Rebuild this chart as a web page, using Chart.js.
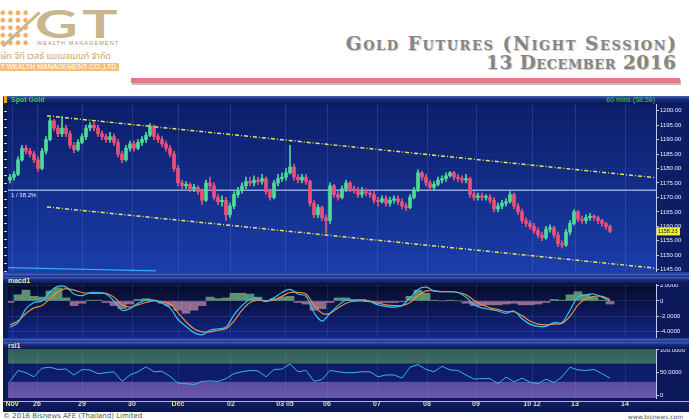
<!DOCTYPE html>
<html>
<head>
<meta charset="utf-8">
<script src="https://cdn.jsdelivr.net/npm/chart.js@4.4.0/dist/chart.umd.min.js"></script>
<style>
  body { margin: 0; width: 689px; height: 420px; background: #fff; position: relative; overflow: hidden; font-family: "Liberation Sans", Arial, sans-serif; }
  .abs { position: absolute; }
  canvas { position: absolute; left: 0; }
  #dots { left: -1px; top: 9px; width: 31px; height: 38px; background: radial-gradient(circle, #f3ab68 2.1px, transparent 2.7px) 0 0 / 7.6px 7.5px; }
  #slash { left: -4px; top: 28px; width: 50px; height: 2.5px; background: #c8b68e; transform: rotate(-43deg); transform-origin: center; }
  #gt { left: 35px; top: 3px; font: bold 38px Lato, "Liberation Sans", sans-serif; color: #c9b68d; transform: scaleX(1.55); transform-origin: left top; letter-spacing: 3px; line-height: 40px; }
  #wm { left: 37px; top: 40px; font-size: 5.5px; letter-spacing: 1.1px; color: #a2946f; }
  #thai { left: -9px; top: 49px; font-size: 9px; color: #c9a265; white-space: nowrap; font-family: "Noto Sans Thai", "DejaVu Sans", sans-serif; }
  #obar { left: 0; top: 63px; width: 119px; height: 8px; background: #f6bf7b; overflow: hidden; }
  #obar span { position: absolute; left: -5px; top: 0; font-size: 7px; line-height: 8px; color: #fff; white-space: nowrap; }
  .ttl { right: 13px; font-family: "DejaVu Serif", serif; font-variant: small-caps; font-weight: bold; color: #858585; text-shadow: 1px 1px 1px #c4c4c4; white-space: nowrap; }
  #t1 { top: 33px; font-size: 18.5px; line-height: 21px; letter-spacing: 1.6px; margin-right: -1.6px; }
  #t2 { top: 52px; font-size: 18.5px; line-height: 21px; letter-spacing: 0.5px; margin-right: -0.5px; }
  #redbar { left: 131px; top: 78px; width: 549px; height: 5px; background: #e07c82; box-shadow: 1px 2px 0 #bdbdbd; }
  #block { left: 3px; top: 96px; width: 686px; height: 316px; background: #0b1a5a; }
  .hdr { left: 3px; width: 686px; background: linear-gradient(#4864b8 0%, #1a2f82 35%, #0a1650 100%); }
  .hdr span { position: absolute; top: 0; font-size: 7px; font-weight: bold; line-height: 8px; }
  .sep { left: 3px; width: 686px; background: linear-gradient(#1c3690 0%, #3d5cc0 50%, #16297a 100%); }
  #ticksL { left: 4px; top: 104px; width: 3px; height: 168px; background: repeating-linear-gradient(#0b1a5a 0 7px, #c8d0f0 7px 8px); }
  #xstrip { left: 3px; top: 401px; width: 686px; height: 11px; background: linear-gradient(#b8b89a 0 1px, #101e5e 1px, #0a1650 100%); }
  #copy { left: 3px; top: 412px; font-size: 7px; color: #555; font-family: Verdana, "DejaVu Sans", sans-serif; }
  #www { right: 6px; top: 413px; font-size: 6px; color: #555; font-family: Verdana, "DejaVu Sans", sans-serif; }
</style>
</head>
<body>
<div id="dots" class="abs"></div>
<div id="slash" class="abs"></div>
<div id="gt" class="abs">GT</div>
<div id="wm" class="abs">WEALTH MANAGEMENT</div>
<div id="thai" class="abs">บริษัท จีที เวลธ์ แมเนจเมนท์ จำกัด</div>
<div id="obar" class="abs"><span>GT WEALTH MANAGEMENT CO.,LTD.</span></div>
<div id="t1" class="abs ttl">Gold Futures (Night Session)</div>
<div id="t2" class="abs ttl">13 December 2016</div>
<div id="redbar" class="abs"></div>

<div id="block" class="abs"></div>
<div class="abs hdr" style="top:96px;height:8px"><span style="left:1px;width:3px;height:7px;background:#e8a820;top:0"></span><span style="left:8px;color:#2fd23a">Spot Gold</span><span style="right:34px;color:#2fd23a;font-weight:normal">60 mins (58:58)</span></div>
<div id="ticksL" class="abs"></div>
<div class="abs sep" style="top:272px;height:5px"></div>
<div class="abs hdr" style="top:277px;height:7px"><span style="left:5px;color:#e6e6a6;line-height:7px">macd1</span></div>
<div class="abs sep" style="top:338px;height:4px"></div>
<div class="abs hdr" style="top:342px;height:7px"><span style="left:5px;color:#e6e6a6;line-height:7px">rsi1</span></div>
<div id="xstrip" class="abs"></div>
<div id="copy" class="abs">© 2016 Bisnews AFE (Thailand) Limited</div>
<div id="www" class="abs">www.bisnews.com</div>

<canvas id="main" width="689" height="168" style="top:104px"></canvas>
<canvas id="macd" width="689" height="54" style="top:284px"></canvas>
<canvas id="rsi" width="689" height="61" style="top:349px"></canvas>

<script>
// 60-min candles, one slot per candle on the x axis
const slotCount = 162;
const opens = [1176,1177,1178,1183,1187,1186,1185,1183,1180,1186,
  1190,1196.5,1194,1192,1194,1192,1188,1186.5,1189,1191,
  1194,1195,1194,1192,1191,1190,1191,1189,1185,1183,
  1187,1188.5,1187,1189,1190,1191.5,1194.5,1191,1190,1188.5,
  1187,1185,1180,1175,1174,1174.5,1173,1173.5,1172,1169,
  1175,1174,1170,1168.5,1169,1164,1167,1171,1172.5,1174,
  1175.5,1175,1176,1175.5,1176.5,1172,1170,1175,1176.5,1177,
  1178.5,1180.5,1177,1176,1177,1175.5,1168,1164,1166.5,1163,
  1162,1174,1171,1170,1173,1175,1173,1172.5,1171,1172,
  1171.5,1171,1169,1168.5,1169.5,1168,1169,1169.5,1168.5,1167,
  1166.5,1170,1172.5,1178.5,1177,1175,1173.5,1174.5,1176,1176.5,
  1177.5,1178.5,1177,1176.5,1176,1176.5,1171,1170,1170.5,1170,
  1170,1169,1166,1167,1168,1168.5,1171,1167,1165,1162,
  1161,1160,1158.5,1157,1156,1159,1159.5,1157,1154,1153.5,
  1158,1161,1165,1162.5,1162,1163,1163.5,1163,1162,1161,
  1160];
const highs = [1178,1179,1184,1188,1188,1187,1186,1184,1187,1191,
  1197.5,1197,1195,1198,1195,1193,1189,1190,1192,1195,
  1196,1196,1195,1193,1192,1192.5,1192,1190,1186,1188,
  1189.5,1189.5,1190,1191,1192.5,1195.5,1195,1192,1191,1189.5,
  1188,1186,1181,1176,1175.5,1175,1174.5,1174,1173,1176,
  1177,1175,1171,1170.5,1170,1168,1172,1173.5,1175,1177,
  1177,1177.5,1177,1178,1177,1173,1176,1178,1178.5,1180,
  1188,1181.5,1178,1178,1178,1176,1169,1167.5,1167,1164,
  1175,1174.5,1172,1174,1176,1175.5,1174,1173.5,1173.5,1173,
  1172.5,1172,1170,1170.5,1170.5,1170,1170.5,1170.5,1169.5,1168,
  1171,1173.5,1179.5,1179,1178,1176,1175.5,1177,1177.5,1178.5,
  1179,1179,1178,1177.5,1178,1177,1172,1171.5,1171.5,1171,
  1171,1170,1168,1169,1169.5,1172,1171.5,1168,1166,1163,
  1162,1161,1159.5,1158,1160,1160.5,1160,1158,1155,1159,
  1162,1165.8,1165.5,1163.5,1164,1164.5,1164,1163.5,1162.5,1161.5,
  1160.5];
const lows = [1175,1176,1177.5,1182.5,1185,1184,1182,1179,1179.5,1185,
  1189.5,1193,1191,1191,1191,1187,1185.5,1186,1188.5,1190,
  1193,1193,1191,1190,1189,1189,1188,1184,1182,1182.5,
  1186,1186,1186.5,1188,1189,1191,1190,1189,1187.5,1186,
  1184,1179,1174,1173,1173,1172,1172,1171,1167.5,1168.5,
  1173,1169,1167.5,1167,1162,1163,1166,1170,1171.5,1173,
  1174,1174,1174.5,1174.5,1171,1169,1169.5,1174,1175.5,1176,
  1178,1176,1175,1175,1174.5,1167,1163,1163,1162,1157.7,
  1161,1170,1169,1169.5,1172,1172,1171.5,1170,1170,1170.5,
  1170,1168,1167,1168,1167,1167,1168,1167.5,1166,1165.5,
  1166,1169.5,1172,1176,1174,1172.5,1172.5,1174,1175,1175.5,
  1177,1176,1175.5,1175,1175,1170,1169,1169,1169,1169,
  1168,1165,1165,1166,1167,1168,1166,1164,1161,1160,
  1159,1157.5,1156,1155,1155.5,1158,1156,1153,1152.5,1153,
  1157,1160.5,1161.5,1161,1161,1162,1162,1161,1160,1159,
  1157.8];
const closes = [1177,1178,1183,1187,1186,1185,1183,1180,1186,1190,
  1196.5,1194,1192,1194,1192,1188,1186.5,1189,1191,1194,
  1195,1194,1192,1191,1190,1191,1189,1185,1183,1187,
  1188.5,1187,1189,1190,1191.5,1194.5,1191,1190,1188.5,1187,
  1185,1180,1175,1174,1174.5,1173,1173.5,1172,1169,1175,
  1174,1170,1168.5,1169,1164,1167,1171,1172.5,1174,1175.5,
  1175,1176,1175.5,1176.5,1172,1170,1175,1176.5,1177,1178.5,
  1180.5,1177,1176,1177,1175.5,1168,1164,1166.5,1163,1162,
  1174,1171,1170,1173,1175,1173,1172.5,1171,1172,1171.5,
  1171,1169,1168.5,1169.5,1168,1169,1169.5,1168.5,1167,1166.5,
  1170,1172.5,1178.5,1177,1175,1173.5,1174.5,1176,1176.5,1177.5,
  1178.5,1177,1176.5,1176,1176.5,1171,1170,1170.5,1170,1170,
  1169,1166,1167,1168,1168.5,1171,1167,1165,1162,1161,
  1160,1158.5,1157,1156,1159,1159.5,1157,1154,1153.5,1158,
  1161,1165,1162.5,1162,1163,1163.5,1163,1162,1161,1160,
  1158.23];
const lastPrice = 1158.23;

// trend channel and retracement level: [slot, price]
const upperChannel = [[9.25, 1198.2], [161.5, 1176.8]];
const lowerChannel = [[9.25, 1166.7], [161.5, 1145.5]];
const fibLevel = 1172.5;
const fibLabel = '1 / 38.2%';
const lowerTrace = [[-0.5, 1145.7], [36.5, 1144.6]];
const priceTicks = [1145, 1150, 1155, 1160, 1165, 1170, 1175, 1180, 1185, 1190, 1195, 1200];

// indicators, one value every 2 slots
const macdLine = [-3.4,-2.8,-1.0,-0.2,0.0,1.2,1.9,1.8,0.9,0.7,
  1.1,1.1,0.9,0.0,-1.2,-1.0,-0.3,0.1,0.1,-0.3,
  -0.9,-2.4,-3.3,-4.1,-4.4,-3.8,-3.6,-3.4,-1.8,-0.6,
  0.2,0.3,-0.1,0.4,1.1,1.5,0.9,0.6,-1.5,-2.6,
  -1.6,-0.6,0.1,0.0,0.0,-0.1,-0.5,-0.7,-0.8,-0.6,
  0.4,1.5,1.8,1.3,1.2,1.2,1.1,0.5,-0.5,-0.9,
  -1.1,-1.3,-1.6,-1.3,-2.3,-3.0,-3.3,-3.3,-2.8,-2.8,
  -1.2,0.5,0.8,0.9,0.5,0.0];
const signalLine = [-3.1,-2.6,-1.6,-0.9,-0.6,0.3,1.2,1.6,1.4,1.1,
  1.0,1.0,1.0,0.5,-0.5,-0.8,-0.5,-0.2,0.0,-0.1,
  -0.4,-1.5,-2.7,-3.6,-4.0,-4.0,-3.8,-3.6,-2.6,-1.2,
  -0.2,0.1,0.0,0.1,0.6,1.1,1.1,0.9,-0.5,-1.6,
  -1.6,-0.9,-0.3,0.0,0.1,0.0,-0.3,-0.5,-0.6,-0.6,
  -0.2,0.7,1.3,1.3,1.2,1.2,1.1,0.8,0.1,-0.5,
  -0.9,-1.1,-1.4,-1.4,-1.9,-2.6,-3.0,-3.1,-3.0,-2.9,
  -2.0,-0.5,0.3,0.6,0.6,0.2];
const macdHist = [-0.2,0.8,1.4,0.6,0.5,1.3,1.7,0.4,-0.6,-0.3,
  0.1,0.1,-0.2,-0.6,-1.0,-0.4,0.2,0.3,0.1,-0.3,
  -0.6,-1.2,-1.6,-1.2,-0.6,0.5,0.3,0.4,1.0,1.0,
  0.9,0.5,0.1,0.3,0.5,0.6,-0.2,-0.4,-1.2,-1.0,
  -0.2,0.4,0.4,0.2,0.2,-0.1,-0.3,-0.2,-0.2,-0.1,
  0.6,1.4,1.0,0.1,0.0,0.1,0.0,-0.3,-0.6,-0.6,
  -0.5,-0.5,-0.4,-0.3,-0.5,-0.5,-0.4,-0.2,0.2,0.1,
  0.8,1.2,0.8,0.5,0.1,-0.4];
const macdTicks = [2, 0, -2, -4];
const rsiLine = [31,55,50,41,60,62,57,58,45,57,
  56,48,50,52,31,45,52,63,52,53,
  42,27,26,24,31,32,31,37,48,52,
  55,54,41,57,58,69,52,55,31,35,
  55,52,50,50,52,52,41,45,45,38,
  62,68,57,52,64,56,55,45,36,37,
  37,26,40,30,38,29,26,36,28,41,
  62,56,55,57,48,38];
const rsiTicks = [0, 50, 100];

// day labels on the time axis, in slots
const dayPos = [0.5, 6.75, 18, 30.5, 42, 55.25, 68.75, 79.25, 91.75, 104.25, 116.5, 130.5, 141.25, 153.75];
const dayNames = ['Nov', '26', '29', '30', 'Dec', '02', '03 05', '06', '07', '08', '09', '10 12', '13', '14'];

Chart.defaults.font.family = '"Liberation Sans", Arial, sans-serif';
Chart.defaults.animation = false;

const panelBg = {
  id: 'panelBg',
  beforeDraw(chart, args, opts) {
    const { ctx, chartArea: a } = chart;
    ctx.save();
    const g = ctx.createLinearGradient(0, a.top, 0, a.bottom);
    opts.stops.forEach(([p, c]) => g.addColorStop(p, c));
    ctx.fillStyle = g;
    ctx.fillRect(a.left, a.top, a.right - a.left, a.bottom - a.top);
    ctx.fillStyle = opts.axis;
    ctx.fillRect(a.right, a.top, chart.width - a.right, a.bottom - a.top);
    if (opts.bands) {
      const y = chart.scales.y;
      const y70 = y.getPixelForValue(70), y30 = y.getPixelForValue(30);
      let gg = ctx.createLinearGradient(0, a.top, 0, y70);
      gg.addColorStop(0, '#2e5d57'); gg.addColorStop(1, '#3d6d62');
      ctx.fillStyle = gg;
      ctx.fillRect(a.left, a.top, a.right - a.left, y70 - a.top);
      gg = ctx.createLinearGradient(0, y30, 0, a.bottom);
      gg.addColorStop(0, '#5a4c9e'); gg.addColorStop(1, '#6a58ac');
      ctx.fillStyle = gg;
      ctx.fillRect(a.left, y30, a.right - a.left, a.bottom - y30);
    }
    ctx.restore();
  }
};

function xAxis(showLabels, gridColor) {
  return {
    type: 'linear', min: -0.5, max: slotCount - 0.5, offset: false,
    afterBuildTicks: s => { s.ticks = dayPos.map(v => ({ value: v })); },
    afterFit: s => { s.height = showLabels ? 12 : 0; s.paddingLeft = 0; s.paddingRight = 0; },
    grid: { color: gridColor, drawTicks: false, offset: false },
    border: { display: false },
    ticks: {
      display: showLabels, autoSkip: false, maxRotation: 0, padding: 2,
      font: { size: 7, weight: 'bold' },
      color: c => (dayNames[c.index] === 'Nov' || dayNames[c.index] === 'Dec') ? '#eee24a' : '#d9d9b4',
      callback: (v, i) => dayNames[i]
    }
  };
}

function yAxis(min, max, ticks, fmt, gridColor, dash) {
  return {
    position: 'right', min, max,
    afterBuildTicks: s => { s.ticks = ticks.map(v => ({ value: v })); },
    afterFit: s => { s.width = 33; s.paddingTop = 0; s.paddingBottom = 0; },
    grid: { color: gridColor, tickLength: 3, tickColor: '#c8d0f0', tickBorderDash: [], borderDash: dash },
    border: { display: true, color: '#c0c8ee', dash: [1, 1] },
    ticks: { color: '#e8ecff', font: { size: 6 }, padding: 1, callback: fmt }
  };
}

const toPts = arr => arr.map(([x, y]) => ({ x, y }));
const upCol = '#4fdc98', dnCol = '#ec5278';
const candleCol = closes.map((c, i) => c >= opens[i] ? upCol : dnCol);

const mainExtras = {
  id: 'mainExtras',
  afterDatasetsDraw(chart) {
    const { ctx, chartArea: a, scales: { y } } = chart;
    ctx.save();
    ctx.font = '6px "Liberation Sans", Arial, sans-serif';
    ctx.fillStyle = '#e8ecff';
    ctx.textBaseline = 'middle';
    ctx.fillText(fibLabel, a.left + 3, y.getPixelForValue(fibLevel) + 5);
    const py = y.getPixelForValue(lastPrice);
    ctx.fillStyle = '#f2ee2a';
    ctx.fillRect(a.right + 1, py - 4, 23, 8);
    ctx.fillStyle = '#222';
    ctx.font = '5.5px "Liberation Sans", Arial, sans-serif';
    ctx.fillText(lastPrice.toFixed(2), a.right + 2, py + 0.5);
    ctx.restore();
  }
};

new Chart(document.getElementById('main'), {
  type: 'bar',
  data: {
    datasets: [
      { type: 'line', data: toPts(upperChannel), borderColor: '#e6e45e', borderWidth: 1.5, borderDash: [4, 2, 1, 2], pointRadius: 0, order: 0 },
      { type: 'line', data: toPts(lowerChannel), borderColor: '#e6e45e', borderWidth: 1.5, borderDash: [4, 2, 1, 2], pointRadius: 0, order: 0 },
      { type: 'line', data: [{ x: -0.5, y: fibLevel }, { x: slotCount - 0.5, y: fibLevel }], borderColor: 'rgba(170,190,240,0.85)', borderWidth: 1.5, pointRadius: 0, order: 3 },
      { type: 'line', data: toPts(lowerTrace), borderColor: '#3aa8f0', borderWidth: 1.2, pointRadius: 0, order: 3 },
      { data: closes.map((c, i) => ({ x: i, y: [lows[i], highs[i]] })), backgroundColor: candleCol, barThickness: 1, grouped: false, order: 2 },
      { data: closes.map((c, i) => ({ x: i, y: [opens[i], c] })), backgroundColor: candleCol, barThickness: 3, minBarLength: 1, grouped: false, order: 1 }
    ]
  },
  options: {
    responsive: false,
    layout: { padding: { left: 8, right: 0, top: 0, bottom: 0 } },
    plugins: { legend: { display: false }, tooltip: { enabled: false },
      panelBg: { stops: [[0, '#0b1d68'], [1, '#1a3daa']], axis: '#0c1d66' } },
    scales: {
      x: xAxis(false, 'rgba(130,150,230,0.2)'),
      y: yAxis(1144.2, 1202.3, priceTicks, v => v.toFixed(2), 'rgba(255,255,255,0.06)', [])
    }
  },
  plugins: [panelBg, mainExtras]
});

new Chart(document.getElementById('macd'), {
  type: 'bar',
  data: {
    datasets: [
      { type: 'line', data: macdLine.map((v, k) => ({ x: 2 * k, y: v })), borderColor: '#36c4f2', borderWidth: 1.2, pointRadius: 0, tension: 0.35, order: 0 },
      { type: 'line', data: signalLine.map((v, k) => ({ x: 2 * k, y: v })), borderColor: '#e8903c', borderWidth: 1.2, pointRadius: 0, tension: 0.35, order: 1 },
      { data: macdHist.map((v, k) => ({ x: 2 * k, y: v })), backgroundColor: c => (c.raw && c.raw.y < 0) ? 'rgba(196,140,168,0.72)' : 'rgba(112,178,128,0.8)', barThickness: 8, grouped: false, order: 2 }
    ]
  },
  options: {
    responsive: false,
    layout: { padding: { left: 8, right: 0, top: 0, bottom: 0 } },
    plugins: { legend: { display: false }, tooltip: { enabled: false },
      panelBg: { stops: [[0, '#070c2a'], [0.45, '#0b1650'], [1, '#13268c']], axis: '#0c1a5c' } },
    scales: {
      x: xAxis(false, 'rgba(130,150,230,0.14)'),
      y: yAxis(-4.8, 2.2, macdTicks, v => v === 0 ? '0' : v.toFixed(4), 'rgba(160,175,235,0.25)', [1, 3])
    }
  },
  plugins: [panelBg]
});

new Chart(document.getElementById('rsi'), {
  type: 'line',
  data: {
    datasets: [
      { data: rsiLine.map((v, k) => ({ x: 2 * k, y: v })), borderColor: '#3cb2e4', borderWidth: 1, pointRadius: 0, tension: 0 }
    ]
  },
  options: {
    responsive: false,
    layout: { padding: { left: 8, right: 0, top: 0, bottom: 0 } },
    plugins: { legend: { display: false }, tooltip: { enabled: false },
      panelBg: { stops: [[0, '#0b1a62'], [1, '#0e1f70']], axis: '#0c1a5c', bands: true } },
    scales: {
      x: xAxis(true, 'rgba(130,150,230,0.16)'),
      y: yAxis(-5.5, 102, rsiTicks, v => v === 0 ? '0' : v.toFixed(4), 'rgba(0,0,0,0)', [])
    }
  },
  plugins: [panelBg]
});
</script>
</body>
</html>
